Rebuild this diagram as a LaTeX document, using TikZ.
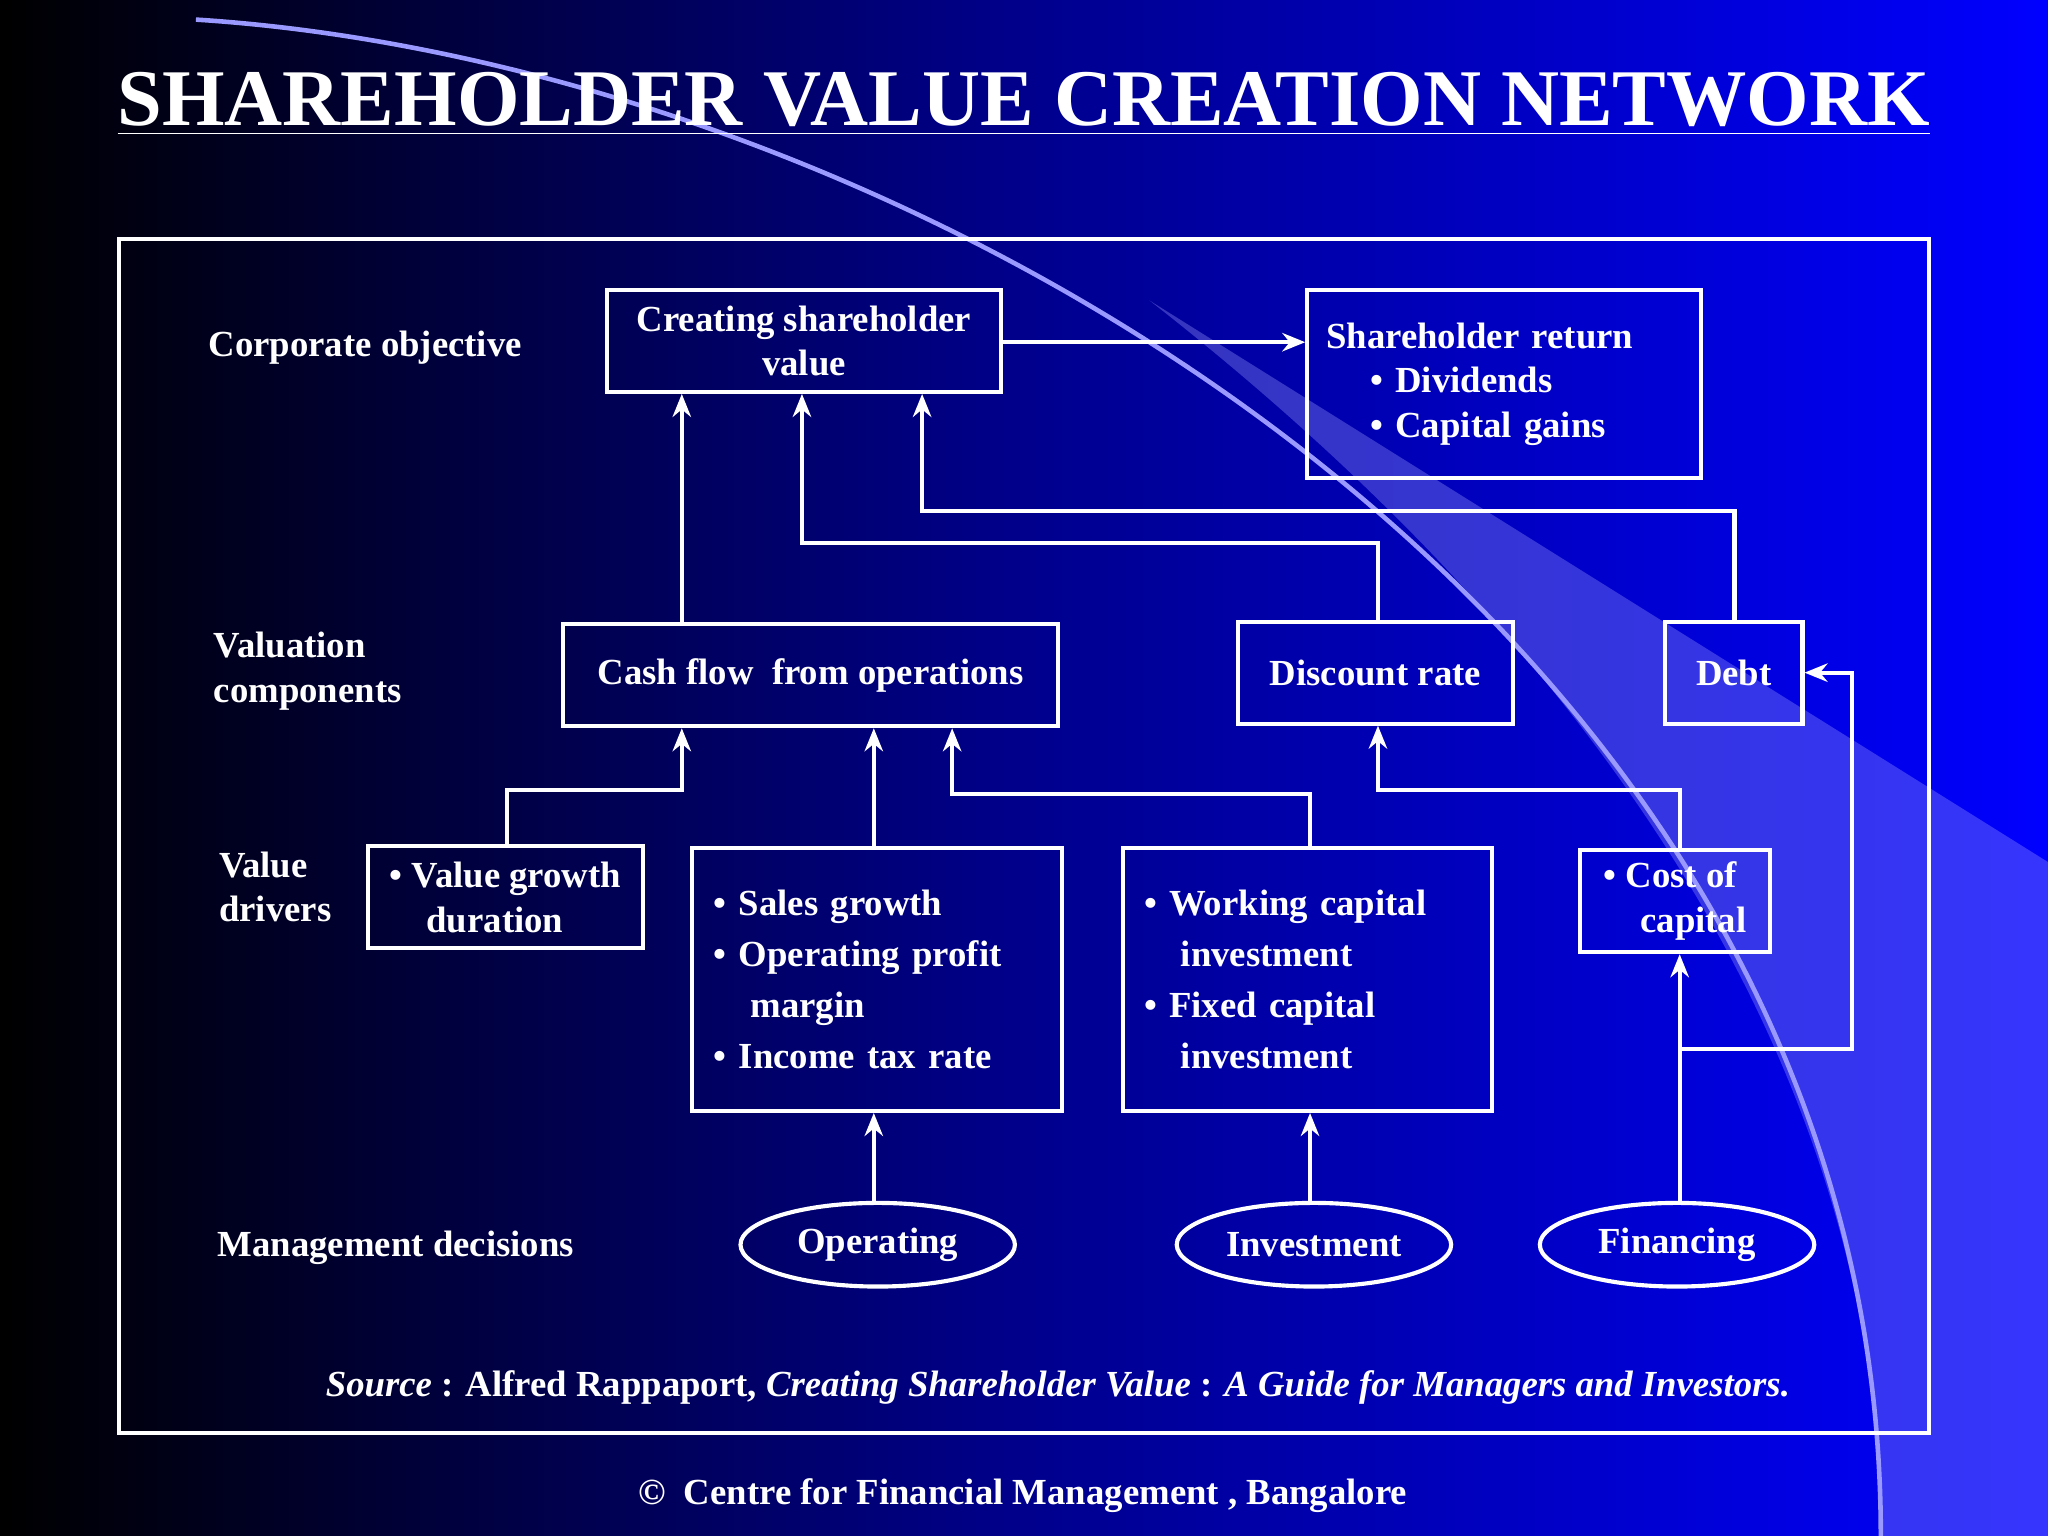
\documentclass[tikz,border=0pt]{standalone}
\usepackage{fontspec}
\setmainfont{Liberation Serif}
\usetikzlibrary{arrows.meta,shapes.geometric}
\begin{document}
\begin{tikzpicture}[x=0.01cm,y=-0.01cm,
  txt/.style={text=white,font=\bfseries\fontsize{8}{9.7}\selectfont},
  bx/.style={txt,draw=white,line width=0.9pt,inner sep=0pt},
  lab/.style={txt,anchor=west,align=left,inner sep=0pt},
  ell/.style={txt,draw=white,line width=0.9pt,ellipse,minimum width=2.1cm,minimum height=0.64cm,inner sep=0pt},
  arr/.style={draw=white,line width=0.9pt,-{Stealth[open,length=5pt,width=4pt]}},
  ln/.style={draw=white,line width=0.9pt}]
\useasboundingbox (0,0) rectangle (1568,1176);
\shade[left color=black,right color=blue,middle color=blue!55!black] (0,0) rectangle (1568,1176);
\fill[white!60!blue,opacity=0.35] (880,230) -- (1568,660) -- (1568,1176) -- (1440,1176) .. controls (1440,800) and (1200,480) .. (880,230);
\draw[blue!40!white,line width=1pt] (150,15) .. controls (700,50) and (1440,480) .. (1440,1176);
\node[text=white,font=\bfseries\fontsize{17.5}{20}\selectfont] (title) at (784,80) {\underline{SHAREHOLDER VALUE CREATION NETWORK}};
\draw[white,line width=0.8pt] (91,183) rectangle (1477,1097);
\node[bx,minimum width=3.01cm,minimum height=0.78cm,align=center] (csv) at (615.5,261) {Creating shareholder\\value};
\node[bx,minimum width=3.01cm,minimum height=1.44cm,align=left,text width=2.72cm] (sr) at (1151.5,294) {Shareholder return\\\hspace*{1.2em}\textbullet\ Dividends\\\hspace*{1.2em}\textbullet\ Capital gains};
\node[bx,minimum width=3.79cm,minimum height=0.78cm] (cf) at (620.5,517) {Cash flow\ \ from operations};
\node[bx,minimum width=2.1cm,minimum height=0.78cm] (dr) at (1053,515) {Discount rate};
\node[bx,minimum width=1.05cm,minimum height=0.78cm] (debt) at (1327.5,515) {Debt};
\node[bx,minimum width=2.1cm,minimum height=0.78cm,align=left] (vg) at (387,687) {\textbullet\ Value growth\\\hspace*{1em}duration};
\node[bx,minimum width=2.83cm,minimum height=2.01cm,align=left,text width=2.5cm,font=\bfseries\fontsize{8}{11.1}\selectfont] (sg) at (671.5,750) {\textbullet\ Sales growth\\\textbullet\ Operating profit\\\hspace*{1em}margin\\\textbullet\ Income tax rate};
\node[bx,minimum width=2.82cm,minimum height=2.01cm,align=left,text width=2.5cm,font=\bfseries\fontsize{8}{11.1}\selectfont] (wc) at (1001,750) {\textbullet\ Working capital\\\hspace*{1em}investment\\\textbullet\ Fixed capital\\\hspace*{1em}investment};
\node[bx,minimum width=1.45cm,minimum height=0.78cm,align=left] (cc) at (1282.5,690) {\textbullet\ Cost of\\\hspace*{1em}capital};
\node[ell] (op) at (672,953) {Operating};
\node[ell] (inv) at (1006,953) {Investment};
\node[ell] (fin) at (1284,953) {Financing};
\node[lab] (l1) at (159,266) {Corporate objective};
\node[lab] (l2) at (163,514) {Valuation\\components};
\node[lab] (l3) at (167,679) {Value\\drivers};
\node[lab] (l4) at (166,955) {Management decisions};
\node[txt] (src) at (810,1062) {\textit{Source} : Alfred Rappaport, \textit{Creating Shareholder Value} : \textit{A Guide for Managers and Investors.}};
\node[txt] (copy) at (783,1145) {\textcopyright\ \ Centre for Financial Management , Bangalore};
\coordinate (fb) at (1286,803);
\coordinate (fr) at (1418,803);
\draw[arr] (csv.east |- 0,262) -- (sr.west |- 0,262);
\draw[arr] (cf.north -| 522,0) -- (csv.south -| 522,0);
\draw[arr] (dr.north -| 1055,0) -- (1055,416) -- (614,416) -- (csv.south -| 614,0);
\draw[arr] (debt.north -| 1328,0) -- (1328,391) -- (706,391) -- (csv.south -| 706,0);
\draw[arr] (vg.north -| 388,0) -- (388,605) -- (522,605) -- (cf.south -| 522,0);
\draw[arr] (sg.north -| 669,0) -- (cf.south -| 669,0);
\draw[arr] (wc.north -| 1003,0) -- (1003,608) -- (729,608) -- (cf.south -| 729,0);
\draw[arr] (cc.north -| 1286,0) -- (1286,605) -- (1055,605) -- (dr.south -| 1055,0);
\draw[arr] (op.north -| 669,0) -- (sg.south -| 669,0);
\draw[arr] (inv.north -| 1003,0) -- (wc.south -| 1003,0);
\draw[arr] (fin.north -| 1286,0) -- (cc.south -| 1286,0);
\draw[arr] (fb) -- (fr) -- (1418,515) -- (debt.east |- 0,515);
\end{tikzpicture}
\end{document}
